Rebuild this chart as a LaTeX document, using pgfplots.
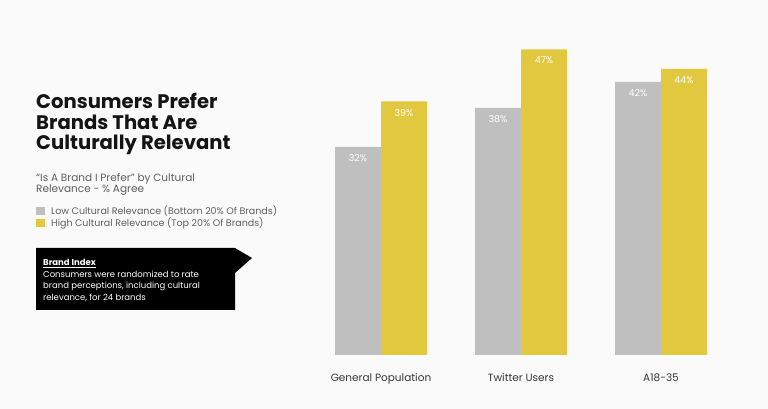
\documentclass[border=0pt]{standalone}
\usepackage{fontspec}
\setmainfont{Poppins}
\usepackage{pgfplots}
\pgfplotsset{compat=1.18}

\definecolor{bg}{RGB}{250,250,250}
\definecolor{lowgray}{RGB}{191,191,191}
\definecolor{highyel}{RGB}{226,200,62}
\definecolor{txtdark}{RGB}{20,20,20}
\definecolor{txtgray}{RGB}{95,95,95}
\definecolor{catgray}{RGB}{55,55,55}

\begin{document}
\begin{tikzpicture}[x=1pt,y=1pt]
\fill[bg] (0,0) rectangle (768,409);
\path[use as bounding box] (0,0) rectangle (768,409);

% title block
\begin{scope}[every node/.style={anchor=base west, inner sep=0pt, text=txtdark,
    font=\fontsize{19.6}{21}\selectfont\bfseries}]
  \node at (36,300) {Consumers Prefer};
  \node at (36,279) {Brands That Are};
  \node at (36,259) {Culturally Relevant};
\end{scope}
\begin{scope}[every node/.style={anchor=base west, inner sep=0pt, text=txtgray,
    font=\fontsize{10.5}{11}\selectfont}]
  \node at (36,227) {“Is A Brand I Prefer” by Cultural};
  \node at (36,216) {Relevance - \% Agree};
\end{scope}

% note box
\fill[black] (36,161) -- (235,161) -- (252,151) -- (235,136) -- (235,99) -- (36,99) -- cycle;
\begin{scope}[every node/.style={anchor=base west, inner sep=0pt, text=white,
    font=\fontsize{8.5}{9}\selectfont}]
  \node at (43,143) {\bfseries\underline{Brand Index}};
  \node at (43,131.5) {Consumers were randomized to rate};
  \node at (43,120) {brand perceptions, including cultural};
  \node at (43,108.5) {relevance, for 24 brands};
\end{scope}

\begin{axis}[
    at={(311pt,54pt)}, anchor=south west,
    scale only axis, width=420pt, height=325pt,
    xmin=-0.5, xmax=2.5, ymin=0, ymax=50,
    enlargelimits=false,
    ybar=0pt, bar width=46pt,
    axis line style={draw=none},
    tick style={draw=none},
    ytick=\empty,
    xtick=data,
    xticklabels={General Population, Twitter Users, A18-35},
    xticklabel style={anchor=base, yshift=-22pt, text=catgray,
      font=\fontsize{10.5}{12}\selectfont},
    nodes near coords={\pgfmathprintnumber[assume math mode=true]{\pgfplotspointmeta}\%},
    every node near coord/.append style={anchor=north, yshift=-4pt, text=white,
      font=\fontsize{9.5}{10}\selectfont},
    legend style={at={(rel axis cs:-0.6548,0.4585)}, anchor=north west,
      draw=none, fill=none, inner sep=0pt, row sep=1.5pt,
      font=\fontsize{9.5}{10}\selectfont, text=txtgray,
      nodes={inner sep=1pt, text height=7pt, text depth=2pt},
      /tikz/every odd column/.append style={column sep=5pt}},
    legend cell align=left,
    legend image code/.code={\fill[#1] (0pt,-3pt) rectangle (9pt,5pt);},
  ]
  \addplot[fill=lowgray, draw=none, bar shift=-23pt] coordinates {(0,32) (1,38) (2,42)};
  \addplot[fill=highyel, draw=none, bar shift=23pt] coordinates {(0,39) (1,47) (2,44)};
  \legend{Low Cultural Relevance (Bottom 20\% Of Brands), High Cultural Relevance (Top 20\% Of Brands)}
\end{axis}
\end{tikzpicture}
\end{document}
